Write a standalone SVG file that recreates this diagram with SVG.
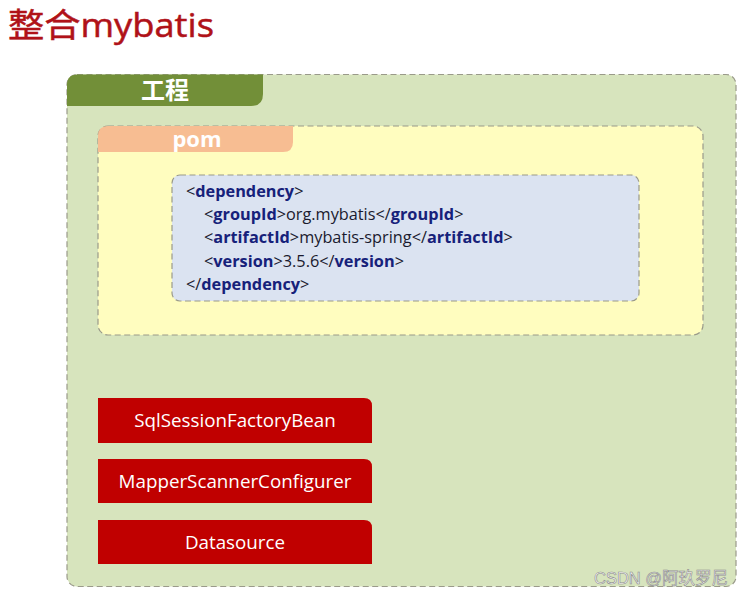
<svg xmlns="http://www.w3.org/2000/svg" width="746" height="596" viewBox="0 0 746 596">
<style>
.dash{stroke:#9a9a8a;stroke-width:1.2;stroke-dasharray:6 3.5}
.tabtxt{font-family:"Open Sans","Noto Sans CJK SC",sans-serif;font-weight:bold;fill:#ffffff;text-anchor:middle}
.code{font-family:"Open Sans","Liberation Sans",sans-serif;font-size:16.3px;fill:#1a1a2e}
.tag{font-weight:bold;fill:#16217a}
.bean{fill:#c00000}
.beantxt{font-family:"Open Sans","Liberation Sans",sans-serif;font-size:18.8px;fill:#ffffff;text-anchor:middle}
</style>
<rect width="746" height="596" fill="#ffffff"/>
<text x="8" y="37" font-family="Open Sans,Noto Sans CJK SC,sans-serif" font-size="33" fill="#b01218" stroke="#b01218" stroke-width="0.5" textLength="206" lengthAdjust="spacingAndGlyphs">整合mybatis</text>
<g id="project">
<rect class="dash" x="67" y="74.5" width="669" height="512" rx="10" fill="#d7e4bd"/>
<path d="M67,85 Q67,74.5 77.5,74.5 H263 V94 Q263,106 251,106 H67 Z" fill="#728f38"/>
<text class="tabtxt" x="165" y="99" font-size="24">工程</text>
</g>
<g id="pom">
<rect class="dash" x="98" y="126" width="605" height="209" rx="10" fill="#fffdbf"/>
<path d="M98,136 Q98,126 108,126 H293 V142 Q293,152 283,152 H98 Z" fill="#f7bd92"/>
<text class="tabtxt" x="197" y="147" font-size="22">pom</text>
</g>
<g id="dependency">
<rect class="dash" x="172" y="175" width="467" height="126" rx="8" fill="#dbe3f1"/>
<text class="code" x="186" y="197">&lt;<tspan class="tag">dependency</tspan>&gt;</text>
<text class="code" x="204" y="220">&lt;<tspan class="tag">groupId</tspan>&gt;org.mybatis&lt;/<tspan class="tag">groupId</tspan>&gt;</text>
<text class="code" x="204" y="243">&lt;<tspan class="tag">artifactId</tspan>&gt;mybatis-spring&lt;/<tspan class="tag">artifactId</tspan>&gt;</text>
<text class="code" x="204" y="267">&lt;<tspan class="tag">version</tspan>&gt;3.5.6&lt;/<tspan class="tag">version</tspan>&gt;</text>
<text class="code" x="186" y="290">&lt;/<tspan class="tag">dependency</tspan>&gt;</text>
</g>
<g id="sqlSessionFactoryBean">
<path class="bean" d="M98,398 H364 Q372,398 372,406 V443 H98 Z"/>
<text class="beantxt" x="235" y="427">SqlSessionFactoryBean</text>
</g>
<g id="mapperScannerConfigurer">
<path class="bean" d="M98,459 H364 Q372,459 372,467 V503 H98 Z"/>
<text class="beantxt" x="235" y="488">MapperScannerConfigurer</text>
</g>
<g id="datasource">
<path class="bean" d="M98,520 H364 Q372,520 372,528 V564 H98 Z"/>
<text class="beantxt" x="235" y="549">Datasource</text>
</g>
<g id="connectors"></g>
<text x="594" y="584" font-family="Liberation Sans,Noto Sans CJK SC,sans-serif" font-size="16.5" fill="#f8f8f8" stroke="#8a8a8a" stroke-width="0.6">CSDN @阿玖罗尼</text>
</svg>
